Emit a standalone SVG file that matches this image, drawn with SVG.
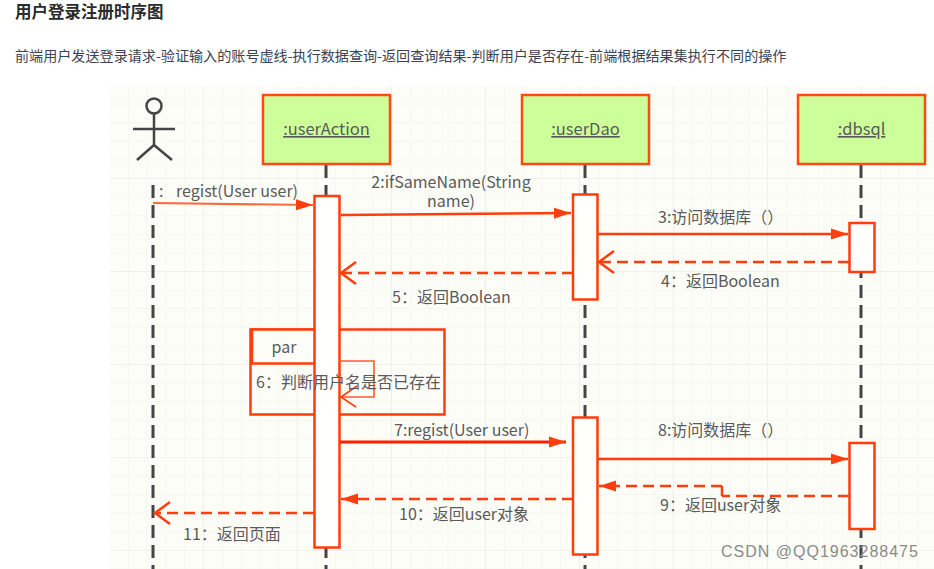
<svg xmlns="http://www.w3.org/2000/svg" width="934" height="569" viewBox="0 0 934 569">
<style>
text{font-family:"Noto Sans CJK SC","Noto Sans",sans-serif;font-size:16px;fill:#5a5a5a}
.life{stroke:#444;stroke-width:3;stroke-dasharray:13 7;fill:none}
.head{fill:#ccff99;stroke:#ff4a12;stroke-width:2.500}
.act{fill:#fffffb;stroke:#ff3d0d;stroke-width:2.500}
.solid{stroke:#ff3d0d;stroke-width:2.500;fill:none}
.dash{stroke:#ff3d0d;stroke-width:2.500;stroke-dasharray:11 6;fill:none}
.mid{text-anchor:middle}
.g1{stroke:#f1f1ec;stroke-width:1}
.g2{stroke:#ecece7;stroke-width:1.200}
</style>
<defs>
<pattern id="grid" width="18.800" height="18.600" patternUnits="userSpaceOnUse" x="110" y="86"><path d="M18.800 0V18.600M0 18.600H18.800" fill="none" class="g1"/></pattern>
<pattern id="grid2" width="94" height="93" patternUnits="userSpaceOnUse" x="110" y="86"><path d="M94 0V93M0 93H94" fill="none" class="g2"/></pattern>
<marker id="fill" markerWidth="18" markerHeight="14" refX="17" refY="7" orient="auto" markerUnits="userSpaceOnUse"><path d="M0 1.500L17 7L0 12.500Z" fill="#ff3d0d"/></marker>
<marker id="open" markerWidth="20" markerHeight="28" refX="17" refY="14" orient="auto" markerUnits="userSpaceOnUse"><path d="M2 3L17 14L2 25" fill="none" stroke="#ff3d0d" stroke-width="2.500"/></marker>
</defs>
<rect width="934" height="569" fill="#fff"/>
<rect x="110" y="86" width="824" height="483" fill="#fdfdf8"/>
<rect x="110" y="86" width="824" height="483" fill="url(#grid)"/>
<rect x="110" y="86" width="824" height="483" fill="url(#grid2)"/>
<text x="15" y="18" style="font-size:16.500px;font-weight:bold;fill:#2b2b2b">用户登录注册时序图</text>
<text x="15" y="61" style="font-size:14.100px;fill:#3b4252">前端用户发送登录请求-验证输入的账号虚线-执行数据查询-返回查询结果-判断用户是否存在-前端根据结果集执行不同的操作</text>

<g id="lifelines">
<path class="life" d="M153 185V569"/>
<path class="life" d="M326 165V569"/>
<path class="life" d="M585 165V569"/>
<path class="life" d="M861 165V569"/>
</g>

<g id="actor" fill="none" stroke="#444" stroke-width="2.500">
<circle cx="154" cy="106" r="7.500"/>
<path d="M154 114V145M133 129H175M154 145L137 160M154 145L172 160"/>
</g>
<g id="userAction"><rect class="head" x="263" y="95" width="127" height="69"/><text class="mid" x="326.500" y="135" text-decoration="underline" style="font-size:16.500px">:userAction</text></g>
<g id="userDao"><rect class="head" x="522" y="95" width="127" height="69"/><text class="mid" x="585.500" y="135" text-decoration="underline" style="font-size:16.500px">:userDao</text></g>
<g id="dbsql"><rect class="head" x="798" y="95" width="127" height="69"/><text class="mid" x="861.500" y="135" text-decoration="underline" style="font-size:16.500px">:dbsql</text></g>

<g id="par">
<rect x="250.500" y="329.500" width="194" height="85" fill="none" stroke="#ff3d0d" stroke-width="2.500"/>
<rect x="252" y="329.500" width="64" height="34" fill="#fdfdf8" stroke="#ff3d0d" stroke-width="2.500"/>
<text class="mid" x="284" y="353">par</text>
</g>

<g id="activations">
<rect class="act" x="314.500" y="196" width="25" height="351.500"/>
<rect class="act" x="573" y="194.500" width="24.500" height="105"/>
<rect class="act" x="849.500" y="223" width="25" height="49"/>
<rect class="act" x="573" y="417.500" width="24.500" height="137"/>
<rect class="act" x="849.500" y="443" width="25" height="86"/>
</g>

<g id="connectors">
<path d="M153 203L313 205" stroke="#ff6a3c" stroke-width="2.200" fill="none" marker-end="url(#fill)"/>
<path class="solid" d="M341 215L571 213" marker-end="url(#fill)"/>
<path class="solid" d="M598 234L848 234" marker-end="url(#fill)"/>
<path class="dash" d="M849 262L599 262" marker-end="url(#open)"/>
<path class="dash" d="M573 273L341 273" marker-end="url(#open)"/>
<path d="M339 361H374V397H341" fill="none" stroke="#ff5a30" stroke-width="1.600"/>
<path d="M357 386L341 397L356 407" fill="none" stroke="#ff3d0d" stroke-width="1.600"/>
<path d="M340 442H566" stroke="#ff1f00" stroke-width="3" fill="none" marker-end="url(#fill)"/>
<path class="solid" d="M598 459L848 459" marker-end="url(#fill)"/>
<path class="dash" d="M722 486H599" marker-end="url(#fill)"/>
<path class="dash" d="M849 496H722"/>
<path class="solid" d="M722 486V496"/>
<path class="dash" d="M573 499H341" marker-end="url(#fill)"/>
<path class="dash" d="M314 513H155" marker-end="url(#open)"/>
</g>

<g id="labels">
<text x="159" y="197">:</text>
<text x="176" y="197">regist(User user)</text>
<text class="mid"><tspan x="451" y="188">2:ifSameName(String</tspan><tspan x="451" y="207">name)</tspan></text>
<text x="658" y="223">3:访问数据库（）</text>
<text x="661" y="287">4：返回Boolean</text>
<text x="392" y="303">5：返回Boolean</text>
<text x="256" y="388">6：判断用户名是否已存在</text>
<text x="394" y="436">7:regist(User user)</text>
<text x="658" y="436">8:访问数据库（）</text>
<text x="660" y="511">9：返回user对象</text>
<text x="399" y="520">10：返回user对象</text>
<text x="183" y="540">11：返回页面</text>
<text x="721" y="557" style="font-size:16px;fill:#8a8a8a;letter-spacing:1px;font-family:'Liberation Sans',sans-serif">CSDN @QQ1963288475</text>
</g>
</svg>
